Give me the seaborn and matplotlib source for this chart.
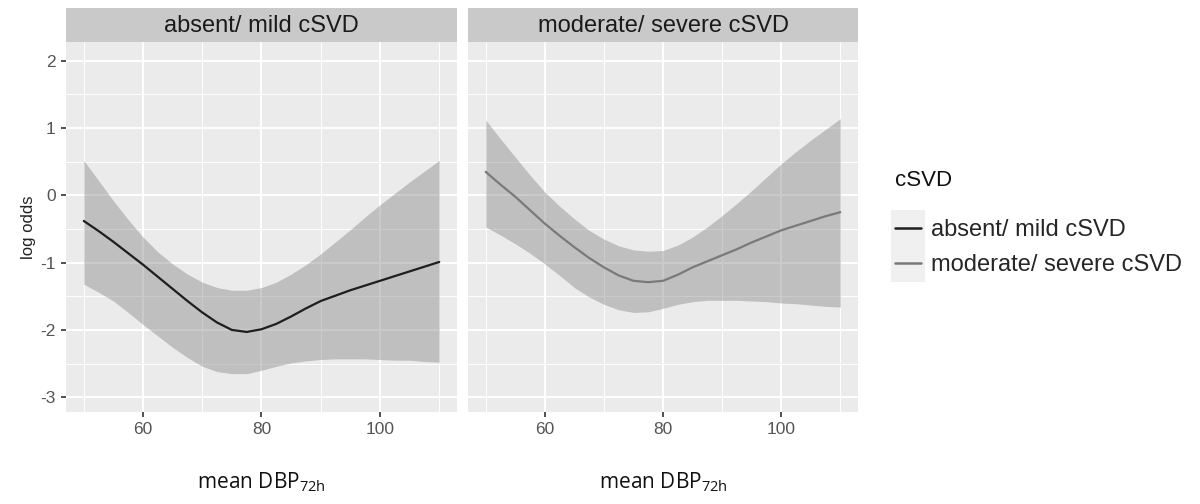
"""
Log odds vs mean DBP (72h), faceted by cSVD severity, ggplot-like look
"""
import pandas as pd
import seaborn as sns
import matplotlib
matplotlib.use("Agg")
import matplotlib.pyplot as plt
from matplotlib.lines import Line2D
from matplotlib.patches import Rectangle

sns.set_theme(style="darkgrid", rc={"axes.facecolor": "#ebebeb", "grid.color": "white"})
plt.rcParams["font.family"] = ["Liberation Sans", "DejaVu Sans"]
plt.rcParams["axes.unicode_minus"] = False

groups = ["absent/ mild cSVD", "moderate/ severe cSVD"]
dbp = [50, 52.5, 55, 57.5, 60, 62.5, 65, 67.5, 70, 72.5, 75, 77.5, 80,
       82.5, 85, 87.5, 90, 92.5, 95, 97.5, 100, 102.5, 105, 107.5, 110]

# absent / mild panel
fit_mild = [-0.38, -0.53, -0.69, -0.86, -1.03, -1.21, -1.39, -1.57, -1.74, -1.89, -2.00, -2.03, -1.99,
            -1.91, -1.80, -1.68, -1.57, -1.49, -1.41, -1.34, -1.27, -1.20, -1.13, -1.06, -0.99]
upper_mild = [0.52, 0.22, -0.08, -0.36, -0.62, -0.84, -1.02, -1.17, -1.29, -1.37, -1.41, -1.41, -1.37,
              -1.29, -1.17, -1.03, -0.87, -0.69, -0.51, -0.32, -0.14, 0.03, 0.20, 0.36, 0.52]
lower_mild = [-1.32, -1.44, -1.57, -1.74, -1.92, -2.09, -2.26, -2.41, -2.54, -2.62, -2.65, -2.65, -2.60,
              -2.54, -2.49, -2.46, -2.44, -2.43, -2.43, -2.43, -2.44, -2.45, -2.45, -2.47, -2.48]

# moderate / severe panel
fit_sev = [0.35, 0.16, -0.02, -0.22, -0.42, -0.60, -0.77, -0.93, -1.07, -1.19, -1.27, -1.29, -1.27,
           -1.18, -1.07, -0.98, -0.89, -0.80, -0.70, -0.61, -0.52, -0.45, -0.38, -0.31, -0.25]
upper_sev = [1.12, 0.84, 0.57, 0.30, 0.05, -0.16, -0.35, -0.52, -0.65, -0.75, -0.81, -0.83, -0.82,
             -0.74, -0.62, -0.47, -0.30, -0.12, 0.07, 0.27, 0.47, 0.65, 0.82, 0.98, 1.14]
lower_sev = [-0.47, -0.59, -0.72, -0.86, -1.02, -1.19, -1.37, -1.51, -1.62, -1.70, -1.74, -1.73, -1.68,
             -1.62, -1.58, -1.56, -1.56, -1.56, -1.57, -1.58, -1.60, -1.61, -1.63, -1.65, -1.66]

df = pd.concat([
    pd.DataFrame({"dbp": dbp, "fit": fit_mild, "lo": lower_mild, "hi": upper_mild, "cSVD": groups[0]}),
    pd.DataFrame({"dbp": dbp, "fit": fit_sev, "lo": lower_sev, "hi": upper_sev, "cSVD": groups[1]}),
])
palette = {groups[0]: "#1e1e1e", groups[1]: "#7a7a7a"}

fig = plt.figure(figsize=(12, 5.04), dpi=100)
W, H = 1200, 504
boxes = [(66, 457), (468, 858)]
top, bottom, strip_h = 42, 412, 34

for i, (g, (x0, x1)) in enumerate(zip(groups, boxes)):
    ax = fig.add_axes([x0 / W, 1 - bottom / H, (x1 - x0) / W, (bottom - top) / H])
    sub = df[df["cSVD"] == g]
    ax.fill_between(sub["dbp"], sub["lo"], sub["hi"], color="#7d7d7d", alpha=0.4, lw=0, zorder=2)
    sns.lineplot(data=sub, x="dbp", y="fit", hue="cSVD", palette=palette, ax=ax,
                 legend=False, lw=1.6, zorder=3)
    ax.set_xlim(47, 113)
    ax.set_ylim(-3.22, 2.28)
    ax.set_xticks([60, 80, 100])
    ax.set_xticks([50, 70, 90, 110], minor=True)
    ax.set_yticks([-3, -2, -1, 0, 1, 2])
    ax.set_yticks([-2.5, -1.5, -0.5, 0.5, 1.5], minor=True)
    ax.grid(which="major", color="white", lw=1.4)
    ax.grid(which="minor", color="white", lw=0.7)
    ax.tick_params(which="major", length=3.5, width=1.2, color="#333333", pad=4,
                   labelcolor="#555555", labelsize=12.5, bottom=True, left=(i == 0))
    ax.tick_params(which="minor", length=0)
    for s in ax.spines.values():
        s.set_visible(False)
    ax.set_xlabel("mean DBP$_\\mathregular{72h}$", fontsize=15, color="#111111",
                  family=["Open Sans", "DejaVu Sans"], labelpad=24)
    if i == 0:
        ax.set_ylabel("log odds", fontsize=12, color="#222222", labelpad=3)
    else:
        ax.set_ylabel("")
        ax.set_yticklabels([])
    # facet strip
    sax = fig.add_axes([x0 / W, 1 - top / H, (x1 - x0) / W, strip_h / H])
    sax.set_facecolor("#c9c9c9")
    sax.set_xticks([])
    sax.set_yticks([])
    for s in sax.spines.values():
        s.set_visible(False)
    sax.text(0.5, 0.48, g, ha="center", va="center", fontsize=17, color="#1a1a1a",
             transform=sax.transAxes)

# legend key background
fig.patches.append(Rectangle((891 / W, 1 - 282 / H), 34 / W, 72 / H, transform=fig.transFigure,
                             facecolor="#f0f0f0", edgecolor="none", zorder=0))
handles = [Line2D([0], [0], color=palette[g], lw=1.8) for g in groups]
leg = fig.legend(handles, groups, title="cSVD", loc="upper left",
                 bbox_to_anchor=(874 / W, 1 - 149 / H), frameon=False,
                 fontsize=17, title_fontsize=16, handlelength=1.1,
                 handletextpad=0.4, labelspacing=0.55)
leg._legend_box.align = "left"
leg.get_title().set_color("#111111")
leg._legend_box.sep = 20

fig.savefig("out.png", dpi=100)
